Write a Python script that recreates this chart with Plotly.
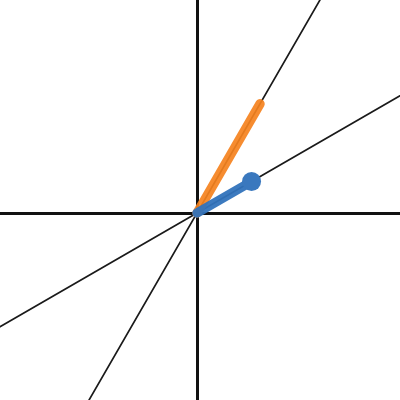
import plotly.graph_objects as go

# two lines through the origin (slopes)
line_x = [-4, 4]
steep_y = [-6.93, 6.93]
shallow_y = [-2.31, 2.31]

# vectors from the origin
blue_x = [0, 0.866]
blue_y = [0, 0.5]
orange_x = [0, 1.0]
orange_y = [0, 1.732]

fig = go.Figure()
fig.add_trace(go.Scatter(x=line_x, y=steep_y, mode="lines",
                         line=dict(color="#1a1a1a", width=1.7)))
fig.add_trace(go.Scatter(x=line_x, y=shallow_y, mode="lines",
                         line=dict(color="#1a1a1a", width=1.7)))
fig.add_trace(go.Scatter(x=orange_x, y=orange_y, mode="lines",
                         line=dict(color="rgba(245,130,30,0.92)", width=9.5)))
fig.add_trace(go.Scatter(x=blue_x, y=blue_y, mode="lines",
                         line=dict(color="rgba(50,115,188,0.95)", width=9.5)))
fig.add_trace(go.Scatter(x=blue_x[1:], y=blue_y[1:], mode="markers",
                         marker=dict(color="#3a78be", size=19)))

s = 63.0
fig.update_layout(
    width=400, height=400,
    margin=dict(l=0, r=0, t=0, b=0),
    plot_bgcolor="white", paper_bgcolor="white",
    showlegend=False,
    xaxis=dict(range=[-197 / s, 203 / s], showgrid=False, showticklabels=False,
               ticks="", zeroline=True, zerolinecolor="#111111", zerolinewidth=2.8),
    yaxis=dict(range=[-187 / s, 213 / s], showgrid=False, showticklabels=False,
               ticks="", zeroline=True, zerolinecolor="#111111", zerolinewidth=2.8),
)
# no body margin, and round ends on the vector strokes
js = ("document.body.style.margin='0';"
      "document.querySelectorAll('.js-line').forEach(function(p){"
      "p.style.strokeLinecap='round';});")
fig.write_html("out.html", config={"displayModeBar": False}, post_script=js)
